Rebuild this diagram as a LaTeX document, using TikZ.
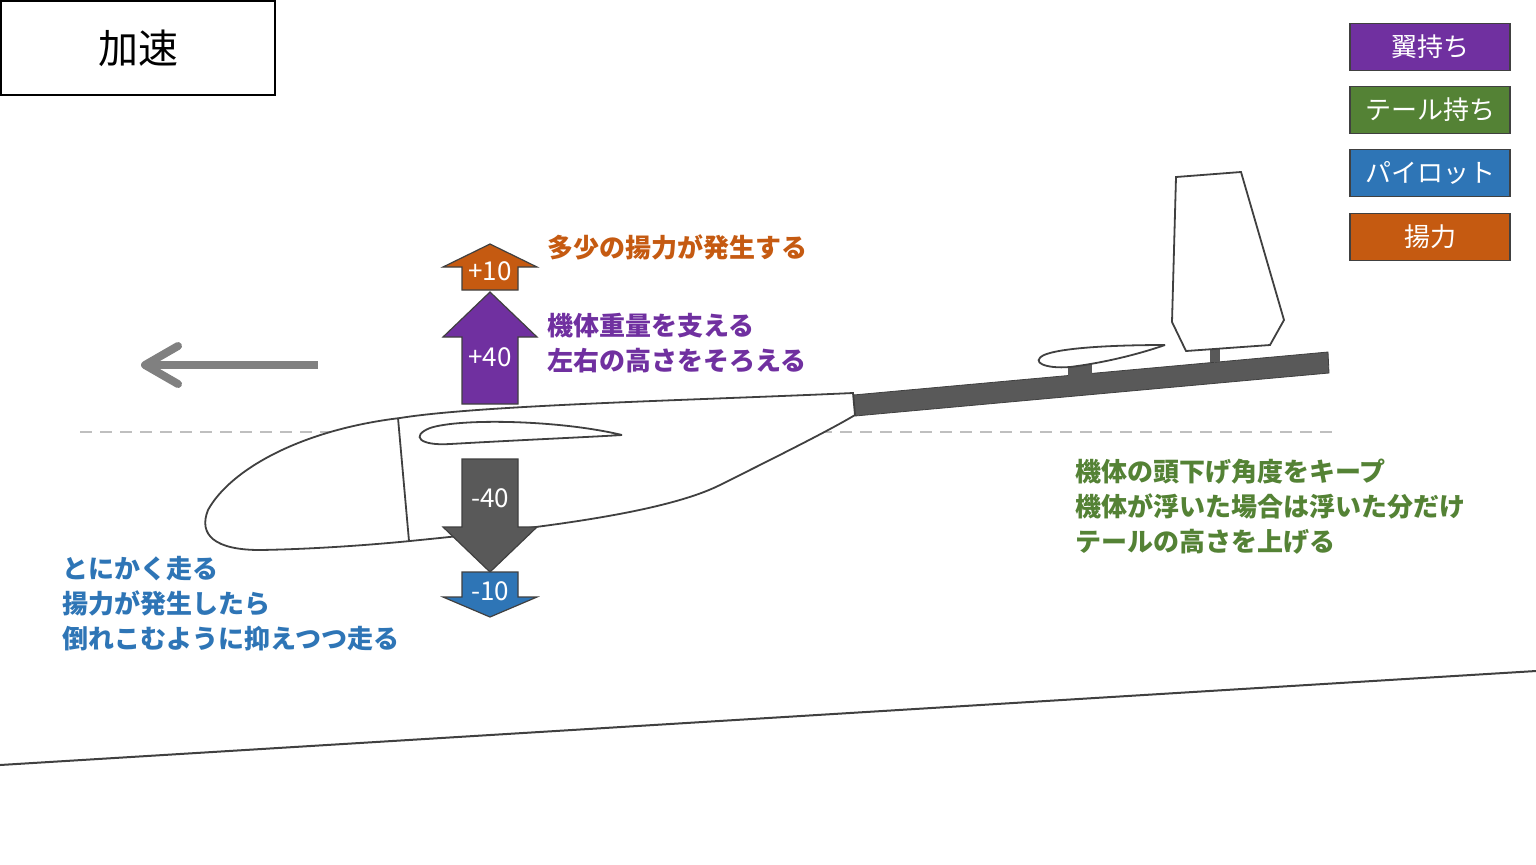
\documentclass[tikz,border=0pt]{standalone}
\usepackage{fontspec}
\setmainfont{Noto Sans CJK JP}
\newfontfamily\jpb{Noto Sans CJK JP}[BoldFont={* Bold}]
\definecolor{cpur}{HTML}{7030A0}
\definecolor{cgrn}{HTML}{548235}
\definecolor{cblu}{HTML}{2E75B6}
\definecolor{cora}{HTML}{C55A11}
\definecolor{cdk}{HTML}{595959}
\definecolor{cln}{HTML}{404040}
\begin{document}
\begin{tikzpicture}[x=0.5pt,y=-0.5pt,
  legbox/.style={draw=cln,line width=0.8pt,minimum width=80pt,minimum height=23.5pt,text=white,font=\fontsize{13}{15}\selectfont,inner sep=0pt},
  note/.style={font=\fontsize{13}{17.5}\selectfont\bfseries,align=left,anchor=west,inner sep=0pt},
  arrtext/.style={text=white,font=\fontsize{13}{15}\selectfont,inner sep=0pt},
  outl/.style={draw=cln,line width=0.9pt}]
\useasboundingbox (0,0) rectangle (1536,864);
\fill[white] (0,0) rectangle (1536,864);
% title
\node[draw=black,line width=0.8pt,minimum width=137pt,minimum height=47pt,inner sep=0pt,font=\fontsize{20}{24}\selectfont] (title) at (138,48) {加速};
% legend
\node[legbox,fill=cpur] (l1) at (1430,47) {翼持ち};
\node[legbox,fill=cgrn] (l2) at (1430,110) {テール持ち};
\node[legbox,fill=cblu] (l3) at (1430,173) {パイロット};
\node[legbox,fill=cora] (l4) at (1430,237) {揚力};
% ground and dashed
\coordinate (g1) at (0,765); \coordinate (g2) at (1536,671);
\draw[cln,line width=1pt] (g1) -- (g2);
\coordinate (d1) at (80,432); \coordinate (d2) at (1335,432);
\draw[gray!50,line width=1pt,dash pattern=on 6pt off 4pt] (d1) -- (d2);
% motion arrow
\coordinate (m1) at (318,365); \coordinate (m2) at (146,365);
\draw[gray,line width=4pt,line cap=butt] (m1) -- (m2);
\draw[gray,line width=4pt,line cap=round,line join=round] (178,346) -- (145,365) -- (178,384);
% tail boom
\fill[cdk,draw=cln] (853,395) -- (1328,352) -- (1329,373) -- (855,416) -- cycle;
% fuselage
\draw[outl,fill=white] (853,393) .. controls (700,400) and (480,405) .. (400,418)
  .. controls (300,430) and (230,470) .. (208,510)
  .. controls (198,535) and (215,550) .. (260,550)
  .. controls (320,549) and (380,544) .. (410,541)
  .. controls (520,530) and (660,515) .. (720,485)
  .. controls (780,455) and (830,430) .. (855,415) -- cycle;
\draw[outl] (398,418) -- (409,541);
% wing
\draw[outl] (622,435) .. controls (560,420) and (460,418) .. (430,428)
  .. controls (410,436) and (420,446) .. (450,444) .. controls (520,440) and (590,437) .. (622,435);
% stabilizer mounts
\fill[cdk] (1068,364) rectangle (1092,376);
\fill[cdk] (1210,349) rectangle (1220,362);
\draw[outl,fill=white] (1165,345) .. controls (1110,345) and (1060,348) .. (1044,355)
  .. controls (1030,362) and (1045,369) .. (1070,367) .. controls (1110,362) and (1145,352) .. (1165,345);
% fin
\draw[outl,fill=white] (1176,177) -- (1241,172) -- (1284,320) -- (1270,345) -- (1186,351) -- (1172,322) -- cycle;
% force arrows
\filldraw[fill=cora,draw=cln,line width=0.6pt] (462,290) -- (462,267) -- (443,267) -- (490,244) -- (537,267) -- (518,267) -- (518,290) -- cycle;
\node[arrtext] (a1) at (490,271) {+10};
\filldraw[fill=cpur,draw=cln,line width=0.6pt] (462,404) -- (462,337) -- (443,337) -- (490,292) -- (537,337) -- (518,337) -- (518,404) -- cycle;
\node[arrtext] (a2) at (490,357) {+40};
\filldraw[fill=cdk,draw=cln,line width=0.6pt] (462,459) -- (462,527) -- (443,527) -- (490,572) -- (537,527) -- (518,527) -- (518,459) -- cycle;
\node[arrtext] (a3) at (490,498) {-40};
\filldraw[fill=cblu,draw=cln,line width=0.6pt] (462,572) -- (462,597) -- (443,597) -- (490,617) -- (537,597) -- (518,597) -- (518,572) -- cycle;
\node[arrtext] (a4) at (490,591) {-10};
% notes
\node[note,text=cora] (n1) at (547,247) {多少の揚力が発生する};
\node[note,text=cpur] (n2) at (547,343) {機体重量を支える\\左右の高さをそろえる};
\node[note,text=cgrn] (n3) at (1075,507) {機体の頭下げ角度をキープ\\機体が浮いた場合は浮いた分だけ\\テールの高さを上げる};
\node[note,text=cblu] (n4) at (62,604) {とにかく走る\\揚力が発生したら\\倒れこむように抑えつつ走る};
\end{tikzpicture}
\end{document}
